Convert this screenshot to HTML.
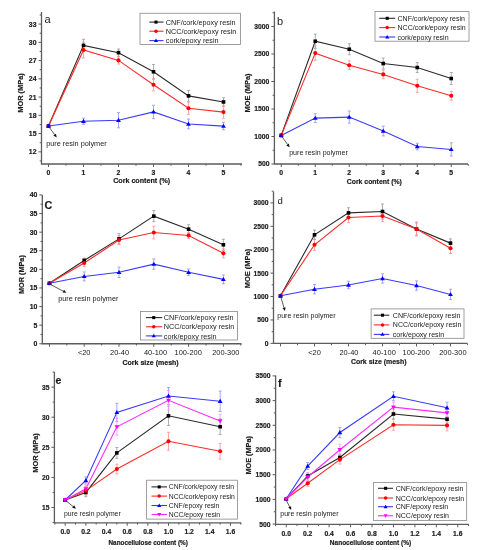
<!DOCTYPE html>
<html><head><meta charset="utf-8"><style>
html,body{margin:0;padding:0;background:#fff;width:480px;height:550px;overflow:hidden}
svg{display:block;filter:blur(0.3px)}
text{font-family:"Liberation Sans", sans-serif}
</style></head><body>
<svg width="480" height="550" viewBox="0 0 480 550">
<rect x="0" y="0" width="480" height="550" fill="#fff"/>
<path d="M41.5 12V164H242" fill="none" stroke="#5c5c5c" stroke-width="1.3"/>
<text x="36.5" y="154.32" font-size="6.9" font-weight="bold" text-anchor="end" fill="#1a1a1a"  stroke="#1a1a1a" stroke-width="0.18">12</text>
<text x="36.5" y="136.07" font-size="6.9" font-weight="bold" text-anchor="end" fill="#1a1a1a"  stroke="#1a1a1a" stroke-width="0.18">15</text>
<text x="36.5" y="117.82" font-size="6.9" font-weight="bold" text-anchor="end" fill="#1a1a1a"  stroke="#1a1a1a" stroke-width="0.18">18</text>
<text x="36.5" y="99.57" font-size="6.9" font-weight="bold" text-anchor="end" fill="#1a1a1a"  stroke="#1a1a1a" stroke-width="0.18">21</text>
<text x="36.5" y="81.32" font-size="6.9" font-weight="bold" text-anchor="end" fill="#1a1a1a"  stroke="#1a1a1a" stroke-width="0.18">24</text>
<text x="36.5" y="63.07" font-size="6.9" font-weight="bold" text-anchor="end" fill="#1a1a1a"  stroke="#1a1a1a" stroke-width="0.18">27</text>
<text x="36.5" y="44.82" font-size="6.9" font-weight="bold" text-anchor="end" fill="#1a1a1a"  stroke="#1a1a1a" stroke-width="0.18">30</text>
<text x="36.5" y="26.58" font-size="6.9" font-weight="bold" text-anchor="end" fill="#1a1a1a"  stroke="#1a1a1a" stroke-width="0.18">33</text>
<path d="M38.5 151.83H41.5 M38.5 133.59H41.5 M38.5 115.34H41.5 M38.5 97.09H41.5 M38.5 78.84H41.5 M38.5 60.59H41.5 M38.5 42.34H41.5 M38.5 24.09H41.5 M39.7 160.96H41.5 M39.7 142.71H41.5 M39.7 124.46H41.5 M39.7 106.21H41.5 M39.7 87.96H41.5 M39.7 69.71H41.5 M39.7 51.46H41.5 M39.7 33.22H41.5 M39.7 14.97H41.5 M48.5 164V167 M83.5 164V167 M118.5 164V167 M153.5 164V167 M188.5 164V167 M223.5 164V167 M66 164V165.8 M101 164V165.8 M136 164V165.8 M171 164V165.8 M206 164V165.8 M241 164V165.8" fill="none" stroke="#5c5c5c" stroke-width="1"/>
<text x="48.5" y="175" font-size="6.8" font-weight="bold" text-anchor="middle" fill="#1a1a1a"  stroke="#1a1a1a" stroke-width="0.18">0</text>
<text x="83.5" y="175" font-size="6.8" font-weight="bold" text-anchor="middle" fill="#1a1a1a"  stroke="#1a1a1a" stroke-width="0.18">1</text>
<text x="118.5" y="175" font-size="6.8" font-weight="bold" text-anchor="middle" fill="#1a1a1a"  stroke="#1a1a1a" stroke-width="0.18">2</text>
<text x="153.5" y="175" font-size="6.8" font-weight="bold" text-anchor="middle" fill="#1a1a1a"  stroke="#1a1a1a" stroke-width="0.18">3</text>
<text x="188.5" y="175" font-size="6.8" font-weight="bold" text-anchor="middle" fill="#1a1a1a"  stroke="#1a1a1a" stroke-width="0.18">4</text>
<text x="223.5" y="175" font-size="6.8" font-weight="bold" text-anchor="middle" fill="#1a1a1a"  stroke="#1a1a1a" stroke-width="0.18">5</text>
<text x="141.7" y="183.1" font-size="7.15" font-weight="bold" text-anchor="middle" fill="#1a1a1a"  stroke="#1a1a1a" stroke-width="0.18">Cork content (%)</text>
<text x="0" y="0" font-size="7.4" font-weight="bold" text-anchor="middle" fill="#1a1a1a" stroke="#1a1a1a" stroke-width="0.18" transform="translate(23.2 93) rotate(-90)">MOR (MPa)</text>
<text x="44.5" y="23.3" font-size="11" font-weight="normal" text-anchor="start" fill="#1a1a1a" >a</text>
<path d="M48.5 125.98L83.5 45.38L118.5 52.68L153.5 71.78L188.5 95.87L223.5 101.95" fill="none" stroke="#2a2a2a" stroke-width="1.1"/>
<path d="M48.5 125.98L83.5 50L118.5 60.41L153.5 84.8L188.5 108.22L223.5 112.11" fill="none" stroke="#ff2a2a" stroke-width="1.1"/>
<path d="M48.5 125.98L83.5 121.24L118.5 120.2L153.5 111.93L188.5 123.97L223.5 126.1" fill="none" stroke="#3a3aff" stroke-width="1.1"/>
<path d="M83.5 39.3V51.46M82 39.3H85M82 51.46H85 M118.5 49.03V56.33M117 49.03H120M117 56.33H120 M153.5 64.48V79.08M152 64.48H155M152 79.08H155 M188.5 90.4V101.35M187 90.4H190M187 101.35H190 M223.5 97.7V106.21M222 97.7H225M222 106.21H225" fill="none" stroke="#999999" stroke-width="0.8"/>
<path d="M83.5 42.1V57.91M82 42.1H85M82 57.91H85 M118.5 56.76V64.06M117 56.76H120M117 64.06H120 M153.5 78.72V90.88M152 78.72H155M152 90.88H155 M188.5 102.14V114.3M187 102.14H190M187 114.3H190 M223.5 106.03V118.2M222 106.03H225M222 118.2H225" fill="none" stroke="#ff9090" stroke-width="0.8"/>
<path d="M83.5 118.2V124.28M82 118.2H85M82 124.28H85 M118.5 112.6V127.81M117 112.6H120M117 127.81H120 M153.5 105.24V118.62M152 105.24H155M152 118.62H155 M188.5 119.11V128.84M187 119.11H190M187 128.84H190 M223.5 122.45V129.75M222 122.45H225M222 129.75H225" fill="none" stroke="#9090ff" stroke-width="0.8"/>
<rect x="46.7" y="124.18" width="3.6" height="3.6" fill="#000000"/>
<rect x="81.7" y="43.58" width="3.6" height="3.6" fill="#000000"/>
<rect x="116.7" y="50.88" width="3.6" height="3.6" fill="#000000"/>
<rect x="151.7" y="69.98" width="3.6" height="3.6" fill="#000000"/>
<rect x="186.7" y="94.07" width="3.6" height="3.6" fill="#000000"/>
<rect x="221.7" y="100.15" width="3.6" height="3.6" fill="#000000"/>
<circle cx="48.5" cy="125.98" r="2.05" fill="#ff0000"/>
<circle cx="83.5" cy="50" r="2.05" fill="#ff0000"/>
<circle cx="118.5" cy="60.41" r="2.05" fill="#ff0000"/>
<circle cx="153.5" cy="84.8" r="2.05" fill="#ff0000"/>
<circle cx="188.5" cy="108.22" r="2.05" fill="#ff0000"/>
<circle cx="223.5" cy="112.11" r="2.05" fill="#ff0000"/>
<path d="M48.5 123.58L50.9 127.66L46.1 127.66Z" fill="#0000ff"/>
<path d="M83.5 118.84L85.9 122.92L81.1 122.92Z" fill="#0000ff"/>
<path d="M118.5 117.8L120.9 121.88L116.1 121.88Z" fill="#0000ff"/>
<path d="M153.5 109.53L155.9 113.61L151.1 113.61Z" fill="#0000ff"/>
<path d="M188.5 121.57L190.9 125.65L186.1 125.65Z" fill="#0000ff"/>
<path d="M223.5 123.7L225.9 127.78L221.1 127.78Z" fill="#0000ff"/>
<path d="M49.4 127.5L54.64 134.67" stroke="#333" stroke-width="0.8"/>
<path d="M56.7 137.5L53.34 135.62L55.93 133.73Z" fill="#111"/>
<text x="46.2" y="145.5" font-size="7.3" font-weight="normal" text-anchor="start" fill="#222" >pure resin polymer</text>
<rect x="140" y="13.25" width="100.5" height="31.25" fill="#fff" stroke="#888" stroke-width="0.8"/>
<path d="M149.3 22.1H163.5" stroke="#2a2a2a" stroke-width="1.1"/>
<rect x="154.47" y="20.57" width="3.06" height="3.06" fill="#000000"/>
<text x="165.75" y="24.72" font-size="7.28" font-weight="normal" text-anchor="start" fill="#1a1a1a" >CNF/cork/epoxy resin</text>
<path d="M149.3 31.2H163.5" stroke="#ff2a2a" stroke-width="1.1"/>
<circle cx="156" cy="31.2" r="1.74" fill="#ff0000"/>
<text x="165.75" y="33.82" font-size="7.28" font-weight="normal" text-anchor="start" fill="#1a1a1a" >NCC/cork/epoxy resin</text>
<path d="M149.3 40.6H163.5" stroke="#3a3aff" stroke-width="1.1"/>
<path d="M156 38.56L158.04 42.03L153.96 42.03Z" fill="#0000ff"/>
<text x="165.75" y="43.22" font-size="7.28" font-weight="normal" text-anchor="start" fill="#1a1a1a" >cork/epoxy resin</text>
<path d="M274.4 11.5V164H468" fill="none" stroke="#5c5c5c" stroke-width="1.3"/>
<text x="269.4" y="166.43" font-size="6.75" font-weight="bold" text-anchor="end" fill="#1a1a1a"  stroke="#1a1a1a" stroke-width="0.18">500</text>
<text x="269.4" y="138.93" font-size="6.75" font-weight="bold" text-anchor="end" fill="#1a1a1a"  stroke="#1a1a1a" stroke-width="0.18">1000</text>
<text x="269.4" y="111.43" font-size="6.75" font-weight="bold" text-anchor="end" fill="#1a1a1a"  stroke="#1a1a1a" stroke-width="0.18">1500</text>
<text x="269.4" y="83.93" font-size="6.75" font-weight="bold" text-anchor="end" fill="#1a1a1a"  stroke="#1a1a1a" stroke-width="0.18">2000</text>
<text x="269.4" y="56.43" font-size="6.75" font-weight="bold" text-anchor="end" fill="#1a1a1a"  stroke="#1a1a1a" stroke-width="0.18">2500</text>
<text x="269.4" y="28.93" font-size="6.75" font-weight="bold" text-anchor="end" fill="#1a1a1a"  stroke="#1a1a1a" stroke-width="0.18">3000</text>
<path d="M271.4 164H274.4 M271.4 136.5H274.4 M271.4 109H274.4 M271.4 81.5H274.4 M271.4 54H274.4 M271.4 26.5H274.4 M272.6 150.25H274.4 M272.6 122.75H274.4 M272.6 95.25H274.4 M272.6 67.75H274.4 M272.6 40.25H274.4 M272.6 12.75H274.4 M281.25 164V167 M315.25 164V167 M349.25 164V167 M383.25 164V167 M417.25 164V167 M451.25 164V167 M298.25 164V165.8 M332.25 164V165.8 M366.25 164V165.8 M400.25 164V165.8 M434.25 164V165.8 M468.25 164V165.8" fill="none" stroke="#5c5c5c" stroke-width="1"/>
<text x="281.25" y="175" font-size="6.8" font-weight="bold" text-anchor="middle" fill="#1a1a1a"  stroke="#1a1a1a" stroke-width="0.18">0</text>
<text x="315.25" y="175" font-size="6.8" font-weight="bold" text-anchor="middle" fill="#1a1a1a"  stroke="#1a1a1a" stroke-width="0.18">1</text>
<text x="349.25" y="175" font-size="6.8" font-weight="bold" text-anchor="middle" fill="#1a1a1a"  stroke="#1a1a1a" stroke-width="0.18">2</text>
<text x="383.25" y="175" font-size="6.8" font-weight="bold" text-anchor="middle" fill="#1a1a1a"  stroke="#1a1a1a" stroke-width="0.18">3</text>
<text x="417.25" y="175" font-size="6.8" font-weight="bold" text-anchor="middle" fill="#1a1a1a"  stroke="#1a1a1a" stroke-width="0.18">4</text>
<text x="451.25" y="175" font-size="6.8" font-weight="bold" text-anchor="middle" fill="#1a1a1a"  stroke="#1a1a1a" stroke-width="0.18">5</text>
<text x="374.3" y="183.5" font-size="6.9" font-weight="bold" text-anchor="middle" fill="#1a1a1a"  stroke="#1a1a1a" stroke-width="0.18">Cork content (%)</text>
<text x="0" y="0" font-size="7.4" font-weight="bold" text-anchor="middle" fill="#1a1a1a" stroke="#1a1a1a" stroke-width="0.18" transform="translate(250.2 93) rotate(-90)">MOE (MPa)</text>
<text x="277" y="24.5" font-size="11" font-weight="normal" text-anchor="start" fill="#1a1a1a" >b</text>
<path d="M281.25 135.4L315.25 41.24L349.25 49.22L383.25 63.52L417.25 67.53L451.25 78.53" fill="none" stroke="#2a2a2a" stroke-width="1.1"/>
<path d="M281.25 135.4L315.25 53.12L349.25 65.22L383.25 74.41L417.25 85.79L451.25 95.8" fill="none" stroke="#ff2a2a" stroke-width="1.1"/>
<path d="M281.25 135.4L315.25 118.13L349.25 117.09L383.25 131L417.25 146.51L451.25 149.43" fill="none" stroke="#3a3aff" stroke-width="1.1"/>
<path d="M315.25 34.09V48.39M313.75 34.09H316.75M313.75 48.39H316.75 M349.25 43.72V54.72M347.75 43.72H350.75M347.75 54.72H350.75 M383.25 58.02V69.02M381.75 58.02H384.75M381.75 69.02H384.75 M417.25 62.58V72.48M415.75 62.58H418.75M415.75 72.48H418.75 M451.25 72.48V84.58M449.75 72.48H452.75M449.75 84.58H452.75" fill="none" stroke="#999999" stroke-width="0.8"/>
<path d="M315.25 45.97V60.27M313.75 45.97H316.75M313.75 60.27H316.75 M349.25 60.82V69.62M347.75 60.82H350.75M347.75 69.62H350.75 M383.25 70V78.8M381.75 70H384.75M381.75 78.8H384.75 M417.25 79.19V92.39M415.75 79.19H418.75M415.75 92.39H418.75 M451.25 91.4V100.2M449.75 91.4H452.75M449.75 100.2H452.75" fill="none" stroke="#ff9090" stroke-width="0.8"/>
<path d="M315.25 113.73V122.53M313.75 113.73H316.75M313.75 122.53H316.75 M349.25 111.03V123.13M347.75 111.03H350.75M347.75 123.13H350.75 M383.25 126.05V135.95M381.75 126.05H384.75M381.75 135.95H384.75 M417.25 143.21V149.81M415.75 143.21H418.75M415.75 149.81H418.75 M451.25 142.82V156.03M449.75 142.82H452.75M449.75 156.03H452.75" fill="none" stroke="#9090ff" stroke-width="0.8"/>
<rect x="279.45" y="133.6" width="3.6" height="3.6" fill="#000000"/>
<rect x="313.45" y="39.44" width="3.6" height="3.6" fill="#000000"/>
<rect x="347.45" y="47.42" width="3.6" height="3.6" fill="#000000"/>
<rect x="381.45" y="61.72" width="3.6" height="3.6" fill="#000000"/>
<rect x="415.45" y="65.73" width="3.6" height="3.6" fill="#000000"/>
<rect x="449.45" y="76.73" width="3.6" height="3.6" fill="#000000"/>
<circle cx="281.25" cy="135.4" r="2.05" fill="#ff0000"/>
<circle cx="315.25" cy="53.12" r="2.05" fill="#ff0000"/>
<circle cx="349.25" cy="65.22" r="2.05" fill="#ff0000"/>
<circle cx="383.25" cy="74.41" r="2.05" fill="#ff0000"/>
<circle cx="417.25" cy="85.79" r="2.05" fill="#ff0000"/>
<circle cx="451.25" cy="95.8" r="2.05" fill="#ff0000"/>
<path d="M281.25 133L283.65 137.08L278.85 137.08Z" fill="#0000ff"/>
<path d="M315.25 115.73L317.65 119.81L312.85 119.81Z" fill="#0000ff"/>
<path d="M349.25 114.69L351.65 118.77L346.85 118.77Z" fill="#0000ff"/>
<path d="M383.25 128.6L385.65 132.68L380.85 132.68Z" fill="#0000ff"/>
<path d="M417.25 144.11L419.65 148.19L414.85 148.19Z" fill="#0000ff"/>
<path d="M451.25 147.03L453.65 151.11L448.85 151.11Z" fill="#0000ff"/>
<path d="M281.5 136L287.56 144.46" stroke="#333" stroke-width="0.8"/>
<path d="M289.6 147.3L286.26 145.39L288.86 143.52Z" fill="#111"/>
<text x="289.2" y="154.6" font-size="7.09" font-weight="normal" text-anchor="start" fill="#222" >pure resin polymer</text>
<rect x="375" y="11.4" width="94" height="29.8" fill="#fff" stroke="#888" stroke-width="0.8"/>
<path d="M379.2 18.3H395.2" stroke="#2a2a2a" stroke-width="1.1"/>
<rect x="385.67" y="16.77" width="3.06" height="3.06" fill="#000000"/>
<text x="397.5" y="20.83" font-size="7.03" font-weight="normal" text-anchor="start" fill="#1a1a1a" >CNF/cork/epoxy resin</text>
<path d="M379.2 27.6H395.2" stroke="#ff2a2a" stroke-width="1.1"/>
<circle cx="387.2" cy="27.6" r="1.74" fill="#ff0000"/>
<text x="397.5" y="30.13" font-size="7.03" font-weight="normal" text-anchor="start" fill="#1a1a1a" >NCC/cork/epoxy resin</text>
<path d="M379.2 37H395.2" stroke="#3a3aff" stroke-width="1.1"/>
<path d="M387.2 34.96L389.24 38.43L385.16 38.43Z" fill="#0000ff"/>
<text x="397.5" y="39.53" font-size="7.03" font-weight="normal" text-anchor="start" fill="#1a1a1a" >cork/epoxy resin</text>
<path d="M42.3 195V343.75H241.5" fill="none" stroke="#5c5c5c" stroke-width="1.3"/>
<text x="37.3" y="346.23" font-size="6.9" font-weight="bold" text-anchor="end" fill="#1a1a1a"  stroke="#1a1a1a" stroke-width="0.18">0</text>
<text x="37.3" y="327.63" font-size="6.9" font-weight="bold" text-anchor="end" fill="#1a1a1a"  stroke="#1a1a1a" stroke-width="0.18">5</text>
<text x="37.3" y="309.03" font-size="6.9" font-weight="bold" text-anchor="end" fill="#1a1a1a"  stroke="#1a1a1a" stroke-width="0.18">10</text>
<text x="37.3" y="290.43" font-size="6.9" font-weight="bold" text-anchor="end" fill="#1a1a1a"  stroke="#1a1a1a" stroke-width="0.18">15</text>
<text x="37.3" y="271.83" font-size="6.9" font-weight="bold" text-anchor="end" fill="#1a1a1a"  stroke="#1a1a1a" stroke-width="0.18">20</text>
<text x="37.3" y="253.23" font-size="6.9" font-weight="bold" text-anchor="end" fill="#1a1a1a"  stroke="#1a1a1a" stroke-width="0.18">25</text>
<text x="37.3" y="234.63" font-size="6.9" font-weight="bold" text-anchor="end" fill="#1a1a1a"  stroke="#1a1a1a" stroke-width="0.18">30</text>
<text x="37.3" y="216.03" font-size="6.9" font-weight="bold" text-anchor="end" fill="#1a1a1a"  stroke="#1a1a1a" stroke-width="0.18">35</text>
<text x="37.3" y="197.43" font-size="6.9" font-weight="bold" text-anchor="end" fill="#1a1a1a"  stroke="#1a1a1a" stroke-width="0.18">40</text>
<path d="M39.3 343.75H42.3 M39.3 325.15H42.3 M39.3 306.55H42.3 M39.3 287.95H42.3 M39.3 269.35H42.3 M39.3 250.75H42.3 M39.3 232.15H42.3 M39.3 213.55H42.3 M39.3 194.95H42.3 M40.5 334.45H42.3 M40.5 315.85H42.3 M40.5 297.25H42.3 M40.5 278.65H42.3 M40.5 260.05H42.3 M40.5 241.45H42.3 M40.5 222.85H42.3 M40.5 204.25H42.3 M49.4 343.75V346.75 M84.2 343.75V346.75 M119 343.75V346.75 M153.8 343.75V346.75 M188.6 343.75V346.75 M223.4 343.75V346.75 M66.8 343.75V345.55 M101.6 343.75V345.55 M136.4 343.75V345.55 M171.2 343.75V345.55 M206 343.75V345.55 M240.8 343.75V345.55" fill="none" stroke="#5c5c5c" stroke-width="1"/>
<text x="84.2" y="355" font-size="7.45" font-weight="normal" text-anchor="middle" fill="#1a1a1a" >&lt;20</text>
<text x="119.52" y="355" font-size="7.45" font-weight="normal" text-anchor="middle" fill="#1a1a1a" >20-40</text>
<text x="155.54" y="355" font-size="7.45" font-weight="normal" text-anchor="middle" fill="#1a1a1a" >40-100</text>
<text x="188.25" y="355" font-size="7.45" font-weight="normal" text-anchor="middle" fill="#1a1a1a" >100-200</text>
<text x="225.84" y="355" font-size="7.45" font-weight="normal" text-anchor="middle" fill="#1a1a1a" >200-300</text>
<text x="150.6" y="364.5" font-size="7.03" font-weight="bold" text-anchor="middle" fill="#1a1a1a"  stroke="#1a1a1a" stroke-width="0.18">Cork size (mesh)</text>
<text x="0" y="0" font-size="7.3" font-weight="bold" text-anchor="middle" fill="#1a1a1a" stroke="#1a1a1a" stroke-width="0.18" transform="translate(24.3 274.6) rotate(-90)">MOR (MPa)</text>
<text x="44.6" y="208.8" font-size="10.8" font-weight="bold" text-anchor="start" fill="#1a1a1a"  stroke="#1a1a1a" stroke-width="0.18">C</text>
<path d="M49.4 283.3L84.2 260.42L119 238.85L153.8 216.15L188.6 229.17L223.4 244.8" fill="none" stroke="#2a2a2a" stroke-width="1.1"/>
<path d="M49.4 283.3L84.2 263.03L119 239.96L153.8 232.52L188.6 235.5L223.4 253.35" fill="none" stroke="#ff2a2a" stroke-width="1.1"/>
<path d="M49.4 283.3L84.2 276.42L119 272.33L153.8 264.14L188.6 272.33L223.4 279.39" fill="none" stroke="#3a3aff" stroke-width="1.1"/>
<path d="M84.2 258.19V262.65M82.7 258.19H85.7M82.7 262.65H85.7 M119 233.64V244.05M117.5 233.64H120.5M117.5 244.05H120.5 M153.8 210.57V221.73M152.3 210.57H155.3M152.3 221.73H155.3 M188.6 224.71V233.64M187.1 224.71H190.1M187.1 233.64H190.1 M223.4 239.22V250.38M221.9 239.22H224.9M221.9 250.38H224.9" fill="none" stroke="#999999" stroke-width="0.8"/>
<path d="M84.2 259.31V266.75M82.7 259.31H85.7M82.7 266.75H85.7 M119 235.5V244.43M117.5 235.5H120.5M117.5 244.43H120.5 M153.8 226.2V238.85M152.3 226.2H155.3M152.3 238.85H155.3 M188.6 232.52V238.47M187.1 232.52H190.1M187.1 238.47H190.1 M223.4 248.89V257.82M221.9 248.89H224.9M221.9 257.82H224.9" fill="none" stroke="#ff9090" stroke-width="0.8"/>
<path d="M84.2 271.95V280.88M82.7 271.95H85.7M82.7 280.88H85.7 M119 267.12V277.53M117.5 267.12H120.5M117.5 277.53H120.5 M153.8 258.93V269.35M152.3 258.93H155.3M152.3 269.35H155.3 M188.6 268.98V275.67M187.1 268.98H190.1M187.1 275.67H190.1 M223.4 274.93V283.86M221.9 274.93H224.9M221.9 283.86H224.9" fill="none" stroke="#9090ff" stroke-width="0.8"/>
<rect x="47.6" y="281.5" width="3.6" height="3.6" fill="#000000"/>
<rect x="82.4" y="258.62" width="3.6" height="3.6" fill="#000000"/>
<rect x="117.2" y="237.05" width="3.6" height="3.6" fill="#000000"/>
<rect x="152" y="214.35" width="3.6" height="3.6" fill="#000000"/>
<rect x="186.8" y="227.37" width="3.6" height="3.6" fill="#000000"/>
<rect x="221.6" y="243" width="3.6" height="3.6" fill="#000000"/>
<circle cx="49.4" cy="283.3" r="2.05" fill="#ff0000"/>
<circle cx="84.2" cy="263.03" r="2.05" fill="#ff0000"/>
<circle cx="119" cy="239.96" r="2.05" fill="#ff0000"/>
<circle cx="153.8" cy="232.52" r="2.05" fill="#ff0000"/>
<circle cx="188.6" cy="235.5" r="2.05" fill="#ff0000"/>
<circle cx="223.4" cy="253.35" r="2.05" fill="#ff0000"/>
<path d="M49.4 280.9L51.8 284.98L47 284.98Z" fill="#0000ff"/>
<path d="M84.2 274.02L86.6 278.1L81.8 278.1Z" fill="#0000ff"/>
<path d="M119 269.93L121.4 274.01L116.6 274.01Z" fill="#0000ff"/>
<path d="M153.8 261.74L156.2 265.82L151.4 265.82Z" fill="#0000ff"/>
<path d="M188.6 269.93L191 274.01L186.2 274.01Z" fill="#0000ff"/>
<path d="M223.4 276.99L225.8 281.07L221 281.07Z" fill="#0000ff"/>
<path d="M49.5 284L63.3 291.18" stroke="#333" stroke-width="0.8"/>
<path d="M66.4 292.8L62.56 292.6L64.03 289.76Z" fill="#111"/>
<text x="58.2" y="301.3" font-size="7.27" font-weight="normal" text-anchor="start" fill="#222" >pure resin polymer</text>
<rect x="140.5" y="311.5" width="97" height="28.5" fill="#fff" stroke="#888" stroke-width="0.8"/>
<path d="M145.9 317.6H162.2" stroke="#2a2a2a" stroke-width="1.1"/>
<rect x="152.22" y="316.07" width="3.06" height="3.06" fill="#000000"/>
<text x="163.75" y="320.22" font-size="7.28" font-weight="normal" text-anchor="start" fill="#1a1a1a" >CNF/cork/epoxy resin</text>
<path d="M145.9 326.75H162.2" stroke="#ff2a2a" stroke-width="1.1"/>
<circle cx="153.75" cy="326.75" r="1.74" fill="#ff0000"/>
<text x="163.75" y="329.37" font-size="7.28" font-weight="normal" text-anchor="start" fill="#1a1a1a" >NCC/cork/epoxy resin</text>
<path d="M145.9 335.9H162.2" stroke="#3a3aff" stroke-width="1.1"/>
<path d="M153.75 333.86L155.79 337.33L151.71 337.33Z" fill="#0000ff"/>
<text x="163.75" y="338.52" font-size="7.28" font-weight="normal" text-anchor="start" fill="#1a1a1a" >cork/epoxy resin</text>
<path d="M273.5 191.5V343.4H467.3" fill="none" stroke="#5c5c5c" stroke-width="1.3"/>
<text x="268.5" y="345.83" font-size="6.75" font-weight="bold" text-anchor="end" fill="#1a1a1a"  stroke="#1a1a1a" stroke-width="0.18">0</text>
<text x="268.5" y="322.41" font-size="6.75" font-weight="bold" text-anchor="end" fill="#1a1a1a"  stroke="#1a1a1a" stroke-width="0.18">500</text>
<text x="268.5" y="298.99" font-size="6.75" font-weight="bold" text-anchor="end" fill="#1a1a1a"  stroke="#1a1a1a" stroke-width="0.18">1000</text>
<text x="268.5" y="275.57" font-size="6.75" font-weight="bold" text-anchor="end" fill="#1a1a1a"  stroke="#1a1a1a" stroke-width="0.18">1500</text>
<text x="268.5" y="252.15" font-size="6.75" font-weight="bold" text-anchor="end" fill="#1a1a1a"  stroke="#1a1a1a" stroke-width="0.18">2000</text>
<text x="268.5" y="228.73" font-size="6.75" font-weight="bold" text-anchor="end" fill="#1a1a1a"  stroke="#1a1a1a" stroke-width="0.18">2500</text>
<text x="268.5" y="205.31" font-size="6.75" font-weight="bold" text-anchor="end" fill="#1a1a1a"  stroke="#1a1a1a" stroke-width="0.18">3000</text>
<path d="M270.5 343.4H273.5 M270.5 319.98H273.5 M270.5 296.56H273.5 M270.5 273.14H273.5 M270.5 249.72H273.5 M270.5 226.3H273.5 M270.5 202.88H273.5 M271.7 331.69H273.5 M271.7 308.27H273.5 M271.7 284.85H273.5 M271.7 261.43H273.5 M271.7 238.01H273.5 M271.7 214.59H273.5 M271.7 191.17H273.5 M280.5 343.4V346.4 M314.5 343.4V346.4 M348.5 343.4V346.4 M382.5 343.4V346.4 M416.5 343.4V346.4 M450.5 343.4V346.4 M297.5 343.4V345.2 M331.5 343.4V345.2 M365.5 343.4V345.2 M399.5 343.4V345.2 M433.5 343.4V345.2 M467.5 343.4V345.2" fill="none" stroke="#5c5c5c" stroke-width="1"/>
<text x="314.5" y="355" font-size="7.45" font-weight="normal" text-anchor="middle" fill="#1a1a1a" >&lt;20</text>
<text x="349.01" y="355" font-size="7.45" font-weight="normal" text-anchor="middle" fill="#1a1a1a" >20-40</text>
<text x="384.2" y="355" font-size="7.45" font-weight="normal" text-anchor="middle" fill="#1a1a1a" >40-100</text>
<text x="416.16" y="355" font-size="7.45" font-weight="normal" text-anchor="middle" fill="#1a1a1a" >100-200</text>
<text x="452.88" y="355" font-size="7.45" font-weight="normal" text-anchor="middle" fill="#1a1a1a" >200-300</text>
<text x="378.7" y="364.2" font-size="6.94" font-weight="bold" text-anchor="middle" fill="#1a1a1a"  stroke="#1a1a1a" stroke-width="0.18">Cork size (mesh)</text>
<text x="0" y="0" font-size="7.5" font-weight="bold" text-anchor="middle" fill="#1a1a1a" stroke="#1a1a1a" stroke-width="0.18" transform="translate(250 268.5) rotate(-90)">MOE (MPa)</text>
<text x="277.4" y="203.8" font-size="9.6" font-weight="normal" text-anchor="start" fill="#1a1a1a" >d</text>
<path d="M280.5 295.81L314.5 234.82L348.5 212.9L382.5 211.5L416.5 229.02L450.5 243.12" fill="none" stroke="#2a2a2a" stroke-width="1.1"/>
<path d="M280.5 295.81L314.5 244.8L348.5 217.49L382.5 216L416.5 229.02L450.5 248.31" fill="none" stroke="#ff2a2a" stroke-width="1.1"/>
<path d="M280.5 295.81L314.5 289.21L348.5 284.99L382.5 278.48L416.5 285.55L450.5 294.41" fill="none" stroke="#3a3aff" stroke-width="1.1"/>
<path d="M314.5 230.14V239.51M313 230.14H316M313 239.51H316 M348.5 207.75V218.06M347 207.75H350M347 218.06H350 M382.5 204V218.99M381 204H384M381 218.99H384 M416.5 222.93V235.11M415 222.93H418M415 235.11H418 M450.5 238.9V247.33M449 238.9H452M449 247.33H452" fill="none" stroke="#999999" stroke-width="0.8"/>
<path d="M314.5 239.18V250.42M313 239.18H316M313 250.42H316 M348.5 212.34V222.65M347 212.34H350M347 222.65H350 M382.5 210.37V221.62M381 210.37H384M381 221.62H384 M416.5 221.99V236.04M415 221.99H418M415 236.04H418 M450.5 243.16V253.47M449 243.16H452M449 253.47H452" fill="none" stroke="#ff9090" stroke-width="0.8"/>
<path d="M314.5 284.52V293.89M313 284.52H316M313 293.89H316 M348.5 281.24V288.74M347 281.24H350M347 288.74H350 M382.5 273.8V283.16M381 273.8H384M381 283.16H384 M416.5 280.87V290.24M415 280.87H418M415 290.24H418 M450.5 289.25V299.56M449 289.25H452M449 299.56H452" fill="none" stroke="#9090ff" stroke-width="0.8"/>
<rect x="278.7" y="294.01" width="3.6" height="3.6" fill="#000000"/>
<rect x="312.7" y="233.02" width="3.6" height="3.6" fill="#000000"/>
<rect x="346.7" y="211.1" width="3.6" height="3.6" fill="#000000"/>
<rect x="380.7" y="209.7" width="3.6" height="3.6" fill="#000000"/>
<rect x="414.7" y="227.22" width="3.6" height="3.6" fill="#000000"/>
<rect x="448.7" y="241.32" width="3.6" height="3.6" fill="#000000"/>
<circle cx="280.5" cy="295.81" r="2.05" fill="#ff0000"/>
<circle cx="314.5" cy="244.8" r="2.05" fill="#ff0000"/>
<circle cx="348.5" cy="217.49" r="2.05" fill="#ff0000"/>
<circle cx="382.5" cy="216" r="2.05" fill="#ff0000"/>
<circle cx="416.5" cy="229.02" r="2.05" fill="#ff0000"/>
<circle cx="450.5" cy="248.31" r="2.05" fill="#ff0000"/>
<path d="M280.5 293.41L282.9 297.49L278.1 297.49Z" fill="#0000ff"/>
<path d="M314.5 286.81L316.9 290.89L312.1 290.89Z" fill="#0000ff"/>
<path d="M348.5 282.59L350.9 286.67L346.1 286.67Z" fill="#0000ff"/>
<path d="M382.5 276.08L384.9 280.16L380.1 280.16Z" fill="#0000ff"/>
<path d="M416.5 283.15L418.9 287.23L414.1 287.23Z" fill="#0000ff"/>
<path d="M450.5 292.01L452.9 296.09L448.1 296.09Z" fill="#0000ff"/>
<path d="M280.5 296L283.99 307.65" stroke="#333" stroke-width="0.8"/>
<path d="M285 311L282.46 308.11L285.53 307.19Z" fill="#111"/>
<text x="277.3" y="318.3" font-size="7.04" font-weight="normal" text-anchor="start" fill="#222" >pure resin polymer</text>
<rect x="371.1" y="308.9" width="92.9" height="29.4" fill="#fff" stroke="#888" stroke-width="0.8"/>
<path d="M373.8 315.2H389.3" stroke="#2a2a2a" stroke-width="1.1"/>
<rect x="380.97" y="313.67" width="3.06" height="3.06" fill="#000000"/>
<text x="392.8" y="317.74" font-size="7.05" font-weight="normal" text-anchor="start" fill="#1a1a1a" >CNF/cork/epoxy resin</text>
<path d="M373.8 324.9H389.3" stroke="#ff2a2a" stroke-width="1.1"/>
<circle cx="382.5" cy="324.9" r="1.74" fill="#ff0000"/>
<text x="392.8" y="327.44" font-size="7.05" font-weight="normal" text-anchor="start" fill="#1a1a1a" >NCC/cork/epoxy resin</text>
<path d="M373.8 334.4H389.3" stroke="#3a3aff" stroke-width="1.1"/>
<path d="M382.5 332.36L384.54 335.83L380.46 335.83Z" fill="#0000ff"/>
<text x="392.8" y="336.94" font-size="7.05" font-weight="normal" text-anchor="start" fill="#1a1a1a" >cork/epoxy resin</text>
<path d="M54.4 371.9V522.8H241.3" fill="none" stroke="#5c5c5c" stroke-width="1.3"/>
<text x="49.4" y="509.91" font-size="6.7" font-weight="bold" text-anchor="end" fill="#1a1a1a"  stroke="#1a1a1a" stroke-width="0.18">15</text>
<text x="49.4" y="479.81" font-size="6.7" font-weight="bold" text-anchor="end" fill="#1a1a1a"  stroke="#1a1a1a" stroke-width="0.18">20</text>
<text x="49.4" y="449.71" font-size="6.7" font-weight="bold" text-anchor="end" fill="#1a1a1a"  stroke="#1a1a1a" stroke-width="0.18">25</text>
<text x="49.4" y="419.61" font-size="6.7" font-weight="bold" text-anchor="end" fill="#1a1a1a"  stroke="#1a1a1a" stroke-width="0.18">30</text>
<text x="49.4" y="389.51" font-size="6.7" font-weight="bold" text-anchor="end" fill="#1a1a1a"  stroke="#1a1a1a" stroke-width="0.18">35</text>
<path d="M51.4 507.5H54.4 M51.4 477.4H54.4 M51.4 447.3H54.4 M51.4 417.2H54.4 M51.4 387.1H54.4 M52.6 522.55H54.4 M52.6 492.45H54.4 M52.6 462.35H54.4 M52.6 432.25H54.4 M52.6 402.15H54.4 M52.6 372.05H54.4 M65.2 522.8V525.8 M85.86 522.8V525.8 M106.52 522.8V525.8 M127.18 522.8V525.8 M147.84 522.8V525.8 M168.5 522.8V525.8 M189.16 522.8V525.8 M209.82 522.8V525.8 M230.48 522.8V525.8 M54.87 522.8V524.6 M75.53 522.8V524.6 M96.19 522.8V524.6 M116.85 522.8V524.6 M137.51 522.8V524.6 M158.17 522.8V524.6 M178.83 522.8V524.6 M199.49 522.8V524.6 M220.15 522.8V524.6 M240.81 522.8V524.6" fill="none" stroke="#5c5c5c" stroke-width="1"/>
<text x="65.2" y="533.6" font-size="6.76" font-weight="bold" text-anchor="middle" fill="#1a1a1a"  stroke="#1a1a1a" stroke-width="0.18">0.0</text>
<text x="85.86" y="533.6" font-size="6.76" font-weight="bold" text-anchor="middle" fill="#1a1a1a"  stroke="#1a1a1a" stroke-width="0.18">0.2</text>
<text x="106.52" y="533.6" font-size="6.76" font-weight="bold" text-anchor="middle" fill="#1a1a1a"  stroke="#1a1a1a" stroke-width="0.18">0.4</text>
<text x="127.18" y="533.6" font-size="6.76" font-weight="bold" text-anchor="middle" fill="#1a1a1a"  stroke="#1a1a1a" stroke-width="0.18">0.6</text>
<text x="147.84" y="533.6" font-size="6.76" font-weight="bold" text-anchor="middle" fill="#1a1a1a"  stroke="#1a1a1a" stroke-width="0.18">0.8</text>
<text x="168.5" y="533.6" font-size="6.76" font-weight="bold" text-anchor="middle" fill="#1a1a1a"  stroke="#1a1a1a" stroke-width="0.18">1.0</text>
<text x="189.16" y="533.6" font-size="6.76" font-weight="bold" text-anchor="middle" fill="#1a1a1a"  stroke="#1a1a1a" stroke-width="0.18">1.2</text>
<text x="209.82" y="533.6" font-size="6.76" font-weight="bold" text-anchor="middle" fill="#1a1a1a"  stroke="#1a1a1a" stroke-width="0.18">1.4</text>
<text x="230.48" y="533.6" font-size="6.76" font-weight="bold" text-anchor="middle" fill="#1a1a1a"  stroke="#1a1a1a" stroke-width="0.18">1.6</text>
<text x="148.2" y="544.5" font-size="6.35" font-weight="bold" text-anchor="middle" fill="#1a1a1a"  stroke="#1a1a1a" stroke-width="0.18">Nanocellulose content (%)</text>
<text x="0" y="0" font-size="7.4" font-weight="bold" text-anchor="middle" fill="#1a1a1a" stroke="#1a1a1a" stroke-width="0.18" transform="translate(37.8 453) rotate(-90)">MOR (MPa)</text>
<text x="55.6" y="383.6" font-size="10.5" font-weight="bold" text-anchor="start" fill="#1a1a1a"  stroke="#1a1a1a" stroke-width="0.18">e</text>
<path d="M65.2 499.98L85.86 492.45L116.85 452.9L168.5 415.82L220.15 426.71" fill="none" stroke="#2a2a2a" stroke-width="1.1"/>
<path d="M65.2 499.98L85.86 490.64L116.85 468.97L168.5 441.28L220.15 451.27" fill="none" stroke="#ff2a2a" stroke-width="1.1"/>
<path d="M65.2 499.98L85.86 480.47L116.85 412.38L168.5 396.01L220.15 401.25" fill="none" stroke="#3a3aff" stroke-width="1.1"/>
<path d="M65.2 499.98L85.86 488.84L116.85 426.83L168.5 400.34L220.15 420.99" fill="none" stroke="#ff2aff" stroke-width="1.1"/>
<path d="M85.86 488.24V496.66M84.36 488.24H87.36M84.36 496.66H87.36 M116.85 447.48V458.32M115.35 447.48H118.35M115.35 458.32H118.35 M168.5 406.18V425.45M167 406.18H170M167 425.45H170 M220.15 418.89V434.54M218.65 418.89H221.65M218.65 434.54H221.65" fill="none" stroke="#999999" stroke-width="0.8"/>
<path d="M85.86 486.43V494.86M84.36 486.43H87.36M84.36 494.86H87.36 M116.85 464.16V473.79M115.35 464.16H118.35M115.35 473.79H118.35 M168.5 432.25V450.31M167 432.25H170M167 450.31H170 M220.15 443.45V459.1M218.65 443.45H221.65M218.65 459.1H221.65" fill="none" stroke="#ff9090" stroke-width="0.8"/>
<path d="M85.86 476.86V484.08M84.36 476.86H87.36M84.36 484.08H87.36 M116.85 403.35V421.41M115.35 403.35H118.35M115.35 421.41H118.35 M168.5 387.58V404.44M167 387.58H170M167 404.44H170 M220.15 391.01V411.48M218.65 391.01H221.65M218.65 411.48H221.65" fill="none" stroke="#9090ff" stroke-width="0.8"/>
<path d="M85.86 485.83V491.85M84.36 485.83H87.36M84.36 491.85H87.36 M116.85 418.4V435.26M115.35 418.4H118.35M115.35 435.26H118.35 M168.5 390.71V409.98M167 390.71H170M167 409.98H170 M220.15 414.37V427.61M218.65 414.37H221.65M218.65 427.61H221.65" fill="none" stroke="#ff90ff" stroke-width="0.8"/>
<rect x="63.4" y="498.18" width="3.6" height="3.6" fill="#000000"/>
<rect x="84.06" y="490.65" width="3.6" height="3.6" fill="#000000"/>
<rect x="115.05" y="451.1" width="3.6" height="3.6" fill="#000000"/>
<rect x="166.7" y="414.02" width="3.6" height="3.6" fill="#000000"/>
<rect x="218.35" y="424.91" width="3.6" height="3.6" fill="#000000"/>
<circle cx="65.2" cy="499.98" r="2.05" fill="#ff0000"/>
<circle cx="85.86" cy="490.64" r="2.05" fill="#ff0000"/>
<circle cx="116.85" cy="468.97" r="2.05" fill="#ff0000"/>
<circle cx="168.5" cy="441.28" r="2.05" fill="#ff0000"/>
<circle cx="220.15" cy="451.27" r="2.05" fill="#ff0000"/>
<path d="M65.2 497.58L67.6 501.66L62.8 501.66Z" fill="#0000ff"/>
<path d="M85.86 478.07L88.26 482.15L83.46 482.15Z" fill="#0000ff"/>
<path d="M116.85 409.98L119.25 414.06L114.45 414.06Z" fill="#0000ff"/>
<path d="M168.5 393.61L170.9 397.69L166.1 397.69Z" fill="#0000ff"/>
<path d="M220.15 398.85L222.55 402.93L217.75 402.93Z" fill="#0000ff"/>
<path d="M65.2 502.38L67.6 498.3L62.8 498.3Z" fill="#ff00ff"/>
<path d="M85.86 491.24L88.26 487.16L83.46 487.16Z" fill="#ff00ff"/>
<path d="M116.85 429.23L119.25 425.15L114.45 425.15Z" fill="#ff00ff"/>
<path d="M168.5 402.74L170.9 398.66L166.1 398.66Z" fill="#ff00ff"/>
<path d="M220.15 423.39L222.55 419.31L217.75 419.31Z" fill="#ff00ff"/>
<path d="M65 500L73.18 506.6" stroke="#333" stroke-width="0.8"/>
<path d="M75.9 508.8L72.17 507.85L74.18 505.36Z" fill="#111"/>
<text x="64" y="515.9" font-size="6.85" font-weight="normal" text-anchor="start" fill="#222" >pure resin polymer</text>
<rect x="146.6" y="480.2" width="90.9" height="38.9" fill="#fff" stroke="#888" stroke-width="0.8"/>
<path d="M151.5 486.9H167" stroke="#2a2a2a" stroke-width="1.1"/>
<rect x="157.67" y="485.37" width="3.06" height="3.06" fill="#000000"/>
<text x="168.75" y="489.35" font-size="6.81" font-weight="normal" text-anchor="start" fill="#1a1a1a" >CNF/cork/epoxy resin</text>
<path d="M151.5 496.1H167" stroke="#ff2a2a" stroke-width="1.1"/>
<circle cx="159.2" cy="496.1" r="1.74" fill="#ff0000"/>
<text x="168.75" y="498.55" font-size="6.81" font-weight="normal" text-anchor="start" fill="#1a1a1a" >NCC/cork/epoxy resin</text>
<path d="M151.5 505.5H167" stroke="#3a3aff" stroke-width="1.1"/>
<path d="M159.2 503.46L161.24 506.93L157.16 506.93Z" fill="#0000ff"/>
<text x="168.75" y="507.95" font-size="6.81" font-weight="normal" text-anchor="start" fill="#1a1a1a" >CNF/epoxy resin</text>
<path d="M151.5 514.5H167" stroke="#ff2aff" stroke-width="1.1"/>
<path d="M159.2 516.54L161.24 513.07L157.16 513.07Z" fill="#ff00ff"/>
<text x="168.75" y="516.95" font-size="6.81" font-weight="normal" text-anchor="start" fill="#1a1a1a" >NCC/epoxy resin</text>
<path d="M275.6 375.6V524.3H468.7" fill="none" stroke="#5c5c5c" stroke-width="1.3"/>
<text x="270.6" y="526.53" font-size="6.75" font-weight="bold" text-anchor="end" fill="#1a1a1a"  stroke="#1a1a1a" stroke-width="0.18">500</text>
<text x="270.6" y="501.83" font-size="6.75" font-weight="bold" text-anchor="end" fill="#1a1a1a"  stroke="#1a1a1a" stroke-width="0.18">1000</text>
<text x="270.6" y="477.13" font-size="6.75" font-weight="bold" text-anchor="end" fill="#1a1a1a"  stroke="#1a1a1a" stroke-width="0.18">1500</text>
<text x="270.6" y="452.43" font-size="6.75" font-weight="bold" text-anchor="end" fill="#1a1a1a"  stroke="#1a1a1a" stroke-width="0.18">2000</text>
<text x="270.6" y="427.73" font-size="6.75" font-weight="bold" text-anchor="end" fill="#1a1a1a"  stroke="#1a1a1a" stroke-width="0.18">2500</text>
<text x="270.6" y="403.03" font-size="6.75" font-weight="bold" text-anchor="end" fill="#1a1a1a"  stroke="#1a1a1a" stroke-width="0.18">3000</text>
<text x="270.6" y="378.33" font-size="6.75" font-weight="bold" text-anchor="end" fill="#1a1a1a"  stroke="#1a1a1a" stroke-width="0.18">3500</text>
<path d="M272.6 524.1H275.6 M272.6 499.4H275.6 M272.6 474.7H275.6 M272.6 450H275.6 M272.6 425.3H275.6 M272.6 400.6H275.6 M272.6 375.9H275.6 M273.8 511.75H275.6 M273.8 487.05H275.6 M273.8 462.35H275.6 M273.8 437.65H275.6 M273.8 412.95H275.6 M273.8 388.25H275.6 M286.25 524.3V527.3 M307.69 524.3V527.3 M329.13 524.3V527.3 M350.57 524.3V527.3 M372.01 524.3V527.3 M393.45 524.3V527.3 M414.89 524.3V527.3 M436.33 524.3V527.3 M457.77 524.3V527.3 M275.53 524.3V526.1 M296.97 524.3V526.1 M318.41 524.3V526.1 M339.85 524.3V526.1 M361.29 524.3V526.1 M382.73 524.3V526.1 M404.17 524.3V526.1 M425.61 524.3V526.1 M447.05 524.3V526.1 M468.49 524.3V526.1" fill="none" stroke="#5c5c5c" stroke-width="1"/>
<text x="286.25" y="535.6" font-size="6.76" font-weight="bold" text-anchor="middle" fill="#1a1a1a"  stroke="#1a1a1a" stroke-width="0.18">0.0</text>
<text x="307.69" y="535.6" font-size="6.76" font-weight="bold" text-anchor="middle" fill="#1a1a1a"  stroke="#1a1a1a" stroke-width="0.18">0.2</text>
<text x="329.13" y="535.6" font-size="6.76" font-weight="bold" text-anchor="middle" fill="#1a1a1a"  stroke="#1a1a1a" stroke-width="0.18">0.4</text>
<text x="350.57" y="535.6" font-size="6.76" font-weight="bold" text-anchor="middle" fill="#1a1a1a"  stroke="#1a1a1a" stroke-width="0.18">0.6</text>
<text x="372.01" y="535.6" font-size="6.76" font-weight="bold" text-anchor="middle" fill="#1a1a1a"  stroke="#1a1a1a" stroke-width="0.18">0.8</text>
<text x="393.45" y="535.6" font-size="6.76" font-weight="bold" text-anchor="middle" fill="#1a1a1a"  stroke="#1a1a1a" stroke-width="0.18">1.0</text>
<text x="414.89" y="535.6" font-size="6.76" font-weight="bold" text-anchor="middle" fill="#1a1a1a"  stroke="#1a1a1a" stroke-width="0.18">1.2</text>
<text x="436.33" y="535.6" font-size="6.76" font-weight="bold" text-anchor="middle" fill="#1a1a1a"  stroke="#1a1a1a" stroke-width="0.18">1.4</text>
<text x="457.77" y="535.6" font-size="6.76" font-weight="bold" text-anchor="middle" fill="#1a1a1a"  stroke="#1a1a1a" stroke-width="0.18">1.6</text>
<text x="370.5" y="544.6" font-size="6.5" font-weight="bold" text-anchor="middle" fill="#1a1a1a"  stroke="#1a1a1a" stroke-width="0.18">Nanocellulose content (%)</text>
<text x="0" y="0" font-size="7.3" font-weight="bold" text-anchor="middle" fill="#1a1a1a" stroke="#1a1a1a" stroke-width="0.18" transform="translate(251.3 455.3) rotate(-90)">MOE (MPa)</text>
<text x="278" y="386.7" font-size="11" font-weight="bold" text-anchor="start" fill="#1a1a1a"  stroke="#1a1a1a" stroke-width="0.18">f</text>
<path d="M286.25 498.81L307.69 475.98L339.85 457.51L393.45 413.99L447.05 419.17" fill="none" stroke="#2a2a2a" stroke-width="1.1"/>
<path d="M286.25 498.81L307.69 483.2L339.85 459.58L393.45 424.81L447.05 425.4" fill="none" stroke="#ff2a2a" stroke-width="1.1"/>
<path d="M286.25 498.81L307.69 466.1L339.85 432.51L393.45 396.25L447.05 407.71" fill="none" stroke="#3a3aff" stroke-width="1.1"/>
<path d="M286.25 498.81L307.69 477.02L339.85 449.8L393.45 407.12L447.05 412.9" fill="none" stroke="#ff2aff" stroke-width="1.1"/>
<path d="M307.69 473.02V478.95M306.19 473.02H309.19M306.19 478.95H309.19 M339.85 454.05V460.97M338.35 454.05H341.35M338.35 460.97H341.35 M393.45 409.05V418.93M391.95 409.05H394.95M391.95 418.93H394.95 M447.05 416.21V422.14M445.55 416.21H448.55M445.55 422.14H448.55" fill="none" stroke="#999999" stroke-width="0.8"/>
<path d="M307.69 480.23V486.16M306.19 480.23H309.19M306.19 486.16H309.19 M339.85 455.14V464.03M338.35 455.14H341.35M338.35 464.03H341.35 M393.45 419.37V430.24M391.95 419.37H394.95M391.95 430.24H394.95 M447.05 419.96V430.83M445.55 419.96H448.55M445.55 430.83H448.55" fill="none" stroke="#ff9090" stroke-width="0.8"/>
<path d="M307.69 462.65V469.56M306.19 462.65H309.19M306.19 469.56H309.19 M339.85 427.57V437.45M338.35 427.57H341.35M338.35 437.45H341.35 M393.45 391.81V400.7M391.95 391.81H394.95M391.95 400.7H394.95 M447.05 402.28V413.15M445.55 402.28H448.55M445.55 413.15H448.55" fill="none" stroke="#9090ff" stroke-width="0.8"/>
<path d="M307.69 473.07V480.97M306.19 473.07H309.19M306.19 480.97H309.19 M339.85 444.37V455.24M338.35 444.37H341.35M338.35 455.24H341.35 M393.45 402.18V412.06M391.95 402.18H394.95M391.95 412.06H394.95 M447.05 408.95V416.85M445.55 408.95H448.55M445.55 416.85H448.55" fill="none" stroke="#ff90ff" stroke-width="0.8"/>
<rect x="284.45" y="497.01" width="3.6" height="3.6" fill="#000000"/>
<rect x="305.89" y="474.18" width="3.6" height="3.6" fill="#000000"/>
<rect x="338.05" y="455.71" width="3.6" height="3.6" fill="#000000"/>
<rect x="391.65" y="412.19" width="3.6" height="3.6" fill="#000000"/>
<rect x="445.25" y="417.37" width="3.6" height="3.6" fill="#000000"/>
<circle cx="286.25" cy="498.81" r="2.05" fill="#ff0000"/>
<circle cx="307.69" cy="483.2" r="2.05" fill="#ff0000"/>
<circle cx="339.85" cy="459.58" r="2.05" fill="#ff0000"/>
<circle cx="393.45" cy="424.81" r="2.05" fill="#ff0000"/>
<circle cx="447.05" cy="425.4" r="2.05" fill="#ff0000"/>
<path d="M286.25 496.41L288.65 500.49L283.85 500.49Z" fill="#0000ff"/>
<path d="M307.69 463.7L310.09 467.78L305.29 467.78Z" fill="#0000ff"/>
<path d="M339.85 430.11L342.25 434.19L337.45 434.19Z" fill="#0000ff"/>
<path d="M393.45 393.85L395.85 397.93L391.05 397.93Z" fill="#0000ff"/>
<path d="M447.05 405.31L449.45 409.39L444.65 409.39Z" fill="#0000ff"/>
<path d="M286.25 501.21L288.65 497.13L283.85 497.13Z" fill="#ff00ff"/>
<path d="M307.69 479.42L310.09 475.34L305.29 475.34Z" fill="#ff00ff"/>
<path d="M339.85 452.2L342.25 448.12L337.45 448.12Z" fill="#ff00ff"/>
<path d="M393.45 409.52L395.85 405.44L391.05 405.44Z" fill="#ff00ff"/>
<path d="M447.05 415.3L449.45 411.22L444.65 411.22Z" fill="#ff00ff"/>
<path d="M286.2 500L289.67 506.88" stroke="#333" stroke-width="0.8"/>
<path d="M291.25 510L288.24 507.6L291.1 506.15Z" fill="#111"/>
<text x="280.25" y="516.2" font-size="7.05" font-weight="normal" text-anchor="start" fill="#222" >pure resin polymer</text>
<rect x="373.4" y="482.6" width="93.3" height="37.8" fill="#fff" stroke="#888" stroke-width="0.8"/>
<path d="M378 488.3H393" stroke="#2a2a2a" stroke-width="1.1"/>
<rect x="384.07" y="486.77" width="3.06" height="3.06" fill="#000000"/>
<text x="395.7" y="490.84" font-size="7.05" font-weight="normal" text-anchor="start" fill="#1a1a1a" >CNF/cork/epoxy resin</text>
<path d="M378 498H393" stroke="#ff2a2a" stroke-width="1.1"/>
<circle cx="385.6" cy="498" r="1.74" fill="#ff0000"/>
<text x="395.7" y="500.54" font-size="7.05" font-weight="normal" text-anchor="start" fill="#1a1a1a" >NCC/cork/epoxy resin</text>
<path d="M378 506.7H393" stroke="#3a3aff" stroke-width="1.1"/>
<path d="M385.6 504.66L387.64 508.13L383.56 508.13Z" fill="#0000ff"/>
<text x="395.7" y="509.24" font-size="7.05" font-weight="normal" text-anchor="start" fill="#1a1a1a" >CNF/epoxy resin</text>
<path d="M378 515.8H393" stroke="#ff2aff" stroke-width="1.1"/>
<path d="M385.6 517.84L387.64 514.37L383.56 514.37Z" fill="#ff00ff"/>
<text x="395.7" y="518.34" font-size="7.05" font-weight="normal" text-anchor="start" fill="#1a1a1a" >NCC/epoxy resin</text>
</svg>
</body></html>
